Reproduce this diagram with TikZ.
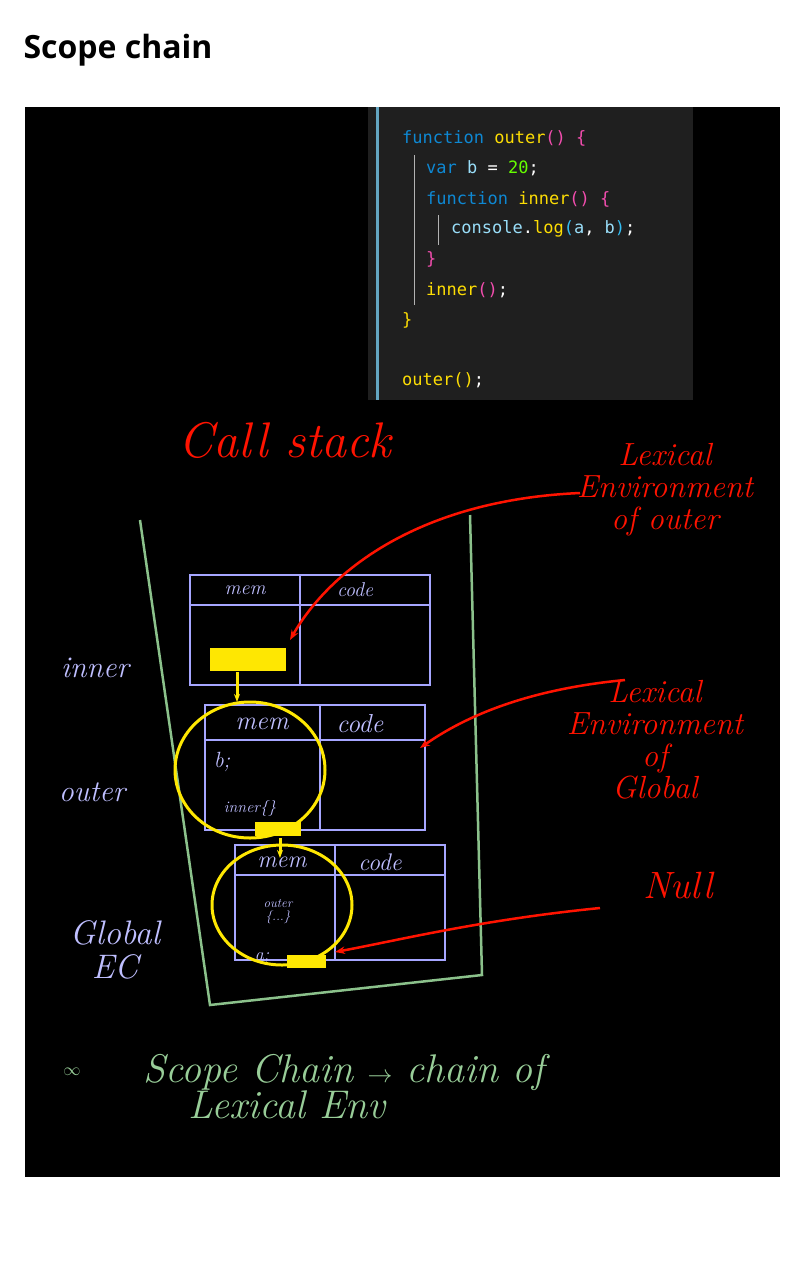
\documentclass[tikz,border=0pt]{standalone}
\usepackage{fontspec}
\usetikzlibrary{arrows.meta}
\setsansfont{Open Sans}
\setmonofont{DejaVu Sans Mono}
\begin{document}
\begin{tikzpicture}[x=1pt,y=-1pt,
  hand/.style={font=\itshape\fontsize{#1}{#1}\selectfont, align=center},
  red/.style={text=red!85!orange, hand=#1},
  blu/.style={text=blue!25!white, hand=#1},
  grn/.style={text=green!35!gray!60!white, hand=#1},
  frame/.style={draw=blue!35!white, line width=2.2pt},
  yel/.style={draw=yellow!90!orange, line width=3pt},
  ybox/.style={fill=yellow!90!orange, draw=yellow!90!orange},
  rarr/.style={draw=red!85!orange, line width=2.5pt, -{Stealth[length=10pt]}},
  code/.style={font=\ttfamily\fontsize{17}{17}\selectfont, anchor=west, inner sep=0}]
\useasboundingbox (0,0) rectangle (804,1280);
\fill[white] (0,0) rectangle (804,1280);
\node[anchor=west, font=\sffamily\fontsize{32}{32}\selectfont] (title) at (20,50) {\textbf{Scope chain}};
\fill[black] (25,107) rectangle (780,1177);
% code panel
\fill[black!88] (368,107) rectangle (693,400);
\draw[cyan!50!gray, line width=3pt] (377,107) -- (377,400);
\draw[gray!60, line width=0.8pt] (414,155) -- (414,305);
\draw[gray!60, line width=0.8pt] (438,215) -- (438,245);
\node[code] (c1) at (402,138) {\textcolor{cyan!70!blue}{function} \textcolor{yellow!80!orange}{outer}\textcolor{magenta!70}{()} \textcolor{magenta!70}{\{}};
\node[code] (c2) at (426,168) {\textcolor{cyan!70!blue}{var} \textcolor{cyan!40!white}{b} \textcolor{white}{=} \textcolor{green!60!yellow}{20}\textcolor{white}{;}};
\node[code] (c3) at (426,199) {\textcolor{cyan!70!blue}{function} \textcolor{yellow!80!orange}{inner}\textcolor{magenta!70}{()} \textcolor{magenta!70}{\{}};
\node[code] (c4) at (451,229) {\textcolor{cyan!40!white}{console}\textcolor{white}{.}\textcolor{yellow!80!orange}{log}\textcolor{cyan!80}{(}\textcolor{cyan!40!white}{a}\textcolor{white}{,} \textcolor{cyan!40!white}{b}\textcolor{cyan!80}{)}\textcolor{white}{;}};
\node[code] (c5) at (426,259) {\textcolor{magenta!70}{\}}};
\node[code] (c6) at (426,290) {\textcolor{yellow!80!orange}{inner}\textcolor{magenta!70}{()}\textcolor{white}{;}};
\node[code] (c7) at (402,320) {\textcolor{yellow!80!orange}{\}}};
\node[code] (c8) at (402,380) {\textcolor{yellow!80!orange}{outer}\textcolor{yellow!80!orange}{()}\textcolor{white}{;}};
% call stack
\node[red=50] (cs) at (285,440) {Call stack};
\draw[draw=green!30!gray!70!white, line width=2.5pt] (140,520) -- (210,1005) -- (482,975) -- (470,515);
% frames
\draw[frame] (190,575) rectangle (430,685); \draw[frame] (190,605) -- (430,605); \draw[frame] (300,575) -- (300,685);
\draw[frame] (205,705) rectangle (425,830); \draw[frame] (205,740) -- (425,740); \draw[frame] (320,705) -- (320,830);
\draw[frame] (235,845) rectangle (445,960); \draw[frame] (235,875) -- (445,875); \draw[frame] (335,845) -- (335,960);
\node[blu=20] (m1) at (245,590) {mem}; \node[blu=20] (k1) at (355,590) {code};
\node[blu=26] (m2) at (262,724) {mem}; \node[blu=26] (k2) at (360,724) {code};
\node[blu=22] (b) at (222,762) {b;}; \node[blu=16] (in) at (250,808) {inner\{\}};
\node[blu=24] (m3) at (282,862) {mem}; \node[blu=24] (k3) at (380,862) {code};
\node[blu=13] (ou) at (278,912) {outer\\\{...\}}; \node[blu=18] (a) at (262,958) {a;};
% yellow
\draw[yel] (250,770) ellipse (75 and 68);
\draw[yel] (282,905) ellipse (70 and 60);
\draw[ybox] (210,648) rectangle (285,670); \draw[ybox] (255,822) rectangle (300,835); \draw[ybox] (287,955) rectangle (325,967);
\draw[yel,-{Stealth[length=8pt]}] (237,672) -- (237,702);
\draw[yel,-{Stealth[length=8pt]}] (280,838) -- (280,858);
% side labels
\node[blu=30] (li) at (95,668) {inner};
\node[blu=30] (lo) at (92,792) {outer};
\node[blu=34] (lg) at (115,950) {Global\\EC};
% right labels
\node[red=32] (l1) at (665,490) {Lexical\\Environment\\of outer};
\node[red=32] (l2) at (655,740) {Lexical\\Environment\\of\\Global};
\node[red=38] (nl) at (678,885) {Null};
\coordinate (t1) at (290,640); \coordinate (t2) at (420,748); \coordinate (t3) at (335,952);
\draw[rarr] (580,493) .. controls (420,500) and (330,570) .. (t1);
\draw[rarr] (625,680) .. controls (520,690) and (460,720) .. (t2);
\draw[rarr] (600,908) .. controls (480,920) and (400,940) .. (t3);
% bottom
\node[grn=40, anchor=west] (s1) at (140,1072) {Scope Chain $\rightarrow$ chain of};
\node[grn=40, anchor=west] (s2) at (185,1105) {Lexical Env};
\node[grn=16] (bul) at (72,1072) {$\infty$};
\end{tikzpicture}
\end{document}
